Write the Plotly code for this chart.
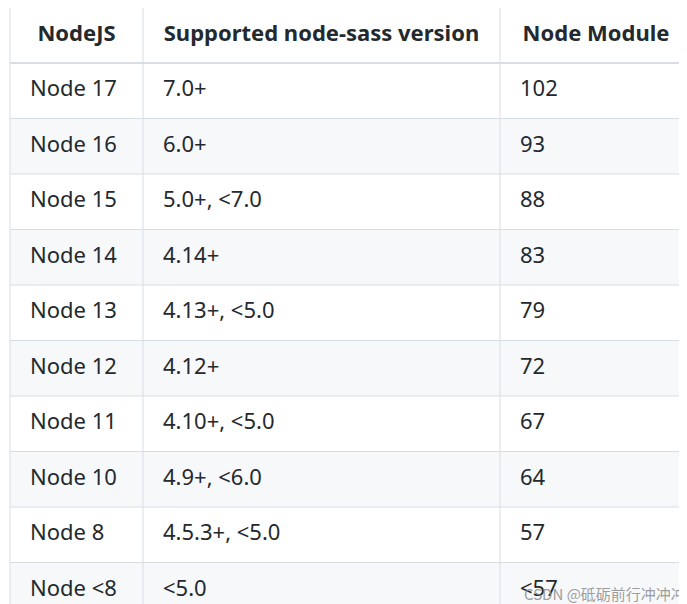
import plotly.graph_objects as go

headers = ["NodeJS", "Supported node-sass version", "Node Module"]
nodejs = ["Node 17", "Node 16", "Node 15", "Node 14", "Node 13", "Node 12",
          "Node 11", "Node 10", "Node 8", "Node <8"]
sass_versions = ["7.0+", "6.0+", "5.0+, <7.0", "4.14+", "4.13+, <5.0", "4.12+",
                 "4.10+, <5.0", "4.9+, <6.0", "4.5.3+, <5.0", "<5.0"]
node_module = ["102", "93", "88", "83", "79", "72", "67", "64", "57", "<57"]

# layout in pixels
col_edges = [2, 135, 492, 684]
header_h = 55
row_h = 55.5
line_color = "#d8dee4"
font = dict(family="Segoe UI, Noto Sans, Open Sans, sans-serif", size=22, color="#24292e")

def esc(s):
    return s.replace("<", "&lt;")

fig = go.Figure()
shapes = []

# row backgrounds and borders
for i in range(len(nodejs)):
    y0 = header_h + i * row_h
    fill = "#ffffff" if i % 2 == 0 else "#f6f8fa"
    shapes.append(dict(type="rect", x0=col_edges[0], x1=col_edges[-1], y0=y0, y1=y0 + row_h,
                       fillcolor=fill, line=dict(width=0), layer="below"))
for i in range(len(nodejs) + 1):
    y = header_h + i * row_h
    shapes.append(dict(type="line", x0=col_edges[0], x1=col_edges[-1], y0=y, y1=y,
                       line=dict(color=line_color, width=2 if i == 0 else 1)))
for x in col_edges:
    shapes.append(dict(type="line", x0=x, x1=x, y0=0, y1=604,
                       line=dict(color=line_color, width=1)))

# header
centers = [(col_edges[j] + col_edges[j + 1]) / 2 for j in range(3)]
fig.add_trace(go.Scatter(x=centers, y=[header_h / 2] * 3, mode="text",
                         text=["<b>%s</b>" % h for h in headers],
                         textposition="middle center", textfont=font,
                         hoverinfo="skip", showlegend=False))

# cells
ys = [header_h + (i + 0.5) * row_h for i in range(len(nodejs))]
for j, col in enumerate([nodejs, sass_versions, node_module]):
    fig.add_trace(go.Scatter(x=[col_edges[j] + 20] * len(col), y=ys, mode="text",
                             text=[esc(v) for v in col], textposition="middle right",
                             textfont=font, hoverinfo="skip", showlegend=False))

fig.add_annotation(
    text="CSDN @砥砺前行冲冲冲", x=680, y=598, xref="x", yref="y",
    xanchor="right", yanchor="bottom", showarrow=False,
    font=dict(family="Noto Sans CJK SC", size=15, color="rgba(140,140,140,0.85)"),
)

fig.update_layout(width=687, height=604, margin=dict(l=0, r=0, t=0, b=0),
                  paper_bgcolor="#ffffff", plot_bgcolor="#ffffff", shapes=shapes,
                  xaxis=dict(range=[0, 687], visible=False, fixedrange=True),
                  yaxis=dict(range=[604, 0], visible=False, fixedrange=True))

fig.write_html("out.html")
